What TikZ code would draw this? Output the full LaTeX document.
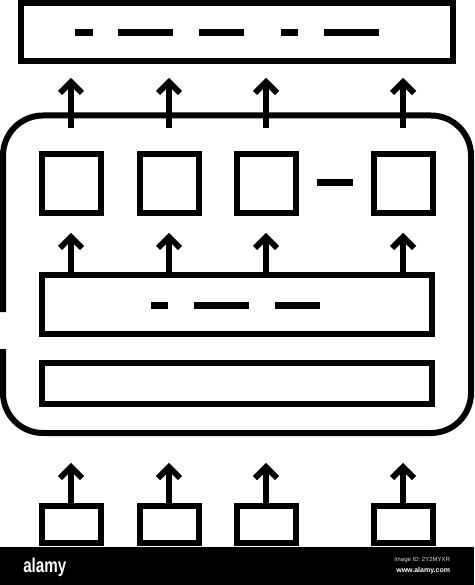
\documentclass[tikz,border=0pt]{standalone}
\usepackage{fontspec}
\setmainfont{Liberation Sans}
\begin{document}
\begin{tikzpicture}[x=1pt,y=-1pt,
  every path/.style={line width=6pt},
  box/.style={draw=black,line width=6pt,inner sep=0pt,fill=white},
  dashline/.style={line width=7pt,line cap=butt},
  barb/.style={line width=6pt,line join=miter,line cap=butt},
  shaft/.style={line width=6pt,line cap=butt}]
\useasboundingbox (0,0) rectangle (474,585);
% top box
\node[box,minimum width=432pt,minimum height=58pt] (topbox) at (237,32) {};
\foreach \a/\b in {75/93,118/173,199/244,281/298,324/379}
  \draw[dashline] (\a,32.5) -- (\b,32.5);
% rounded frame (with gap on left side)
\draw[line width=6pt,rounded corners=40pt] (3,349) -- (3,433) -- (471,433) -- (471,115.5) -- (3,115.5) -- (3,312);
% squares row
\foreach \n/\x in {1/71.5,2/169,3/266.5,4/403}
  \node[box,minimum width=59pt,minimum height=59pt] (sq\n) at (\x,183.5) {};
\draw[dashline] (317,183) -- (353,183);
% middle box
\node[box,minimum width=390pt,minimum height=59pt] (midbox) at (237,304.5) {};
\foreach \a/\b in {151/168,194/249,275/320}
  \draw[dashline] (\a,305) -- (\b,305);
% lower box
\node[box,minimum width=390pt,minimum height=41pt] (lowbox) at (237,383.5) {};
% bottom small boxes
\foreach \n/\x in {1/71.5,2/169,3/266.5,4/403}
  \node[box,minimum width=59pt,minimum height=37pt] (bb\n) at (\x,524.5) {};
% arrows
\foreach \n/\x in {1/71,2/169,3/266,4/403}{
  \coordinate (ta\n) at (\x,82);  \coordinate (tb\n) at (\x,128);
  \coordinate (ma\n) at (\x,237); \coordinate (mb\n) at (\x,275);
  \coordinate (ba\n) at (\x,467); \coordinate (bb\n s) at (\x,506);
  \draw[shaft] (tb\n) -- (ta\n);
  \draw[barb] ([shift={(-11,11)}]ta\n) -- (ta\n) -- ([shift={(11,11)}]ta\n);
  \draw[shaft] (mb\n) -- (ma\n);
  \draw[barb] ([shift={(-11,11)}]ma\n) -- (ma\n) -- ([shift={(11,11)}]ma\n);
  \draw[shaft] (bb\n s) -- (ba\n);
  \draw[barb] ([shift={(-11,11)}]ba\n) -- (ba\n) -- ([shift={(11,11)}]ba\n);
}
% watermark bar
\fill[black] (0,547) rectangle (474,585);
\node[anchor=base west,inner sep=0pt,text=white,font=\bfseries\fontsize{20}{20}\selectfont,xscale=0.76] (logo) at (21,572) {alamy};
\node[anchor=east,inner sep=0pt,text=white!85!black,font=\fontsize{6}{6}\selectfont] (imgid) at (453,560) {Image ID: 2Y2MYXR};
\node[anchor=east,inner sep=0pt,text=white,font=\bfseries\fontsize{7}{7}\selectfont] (url) at (453,570.5) {www.alamy.com};
\end{tikzpicture}
\end{document}
